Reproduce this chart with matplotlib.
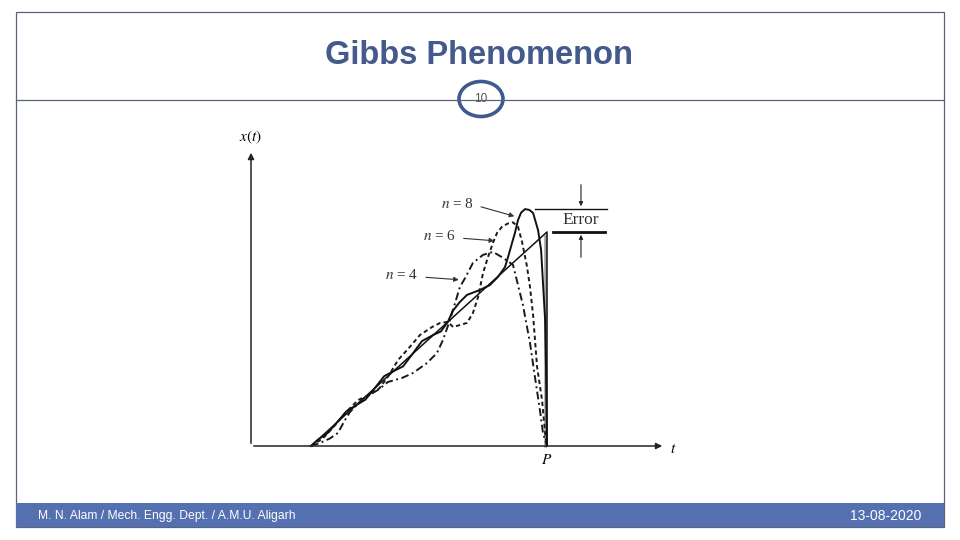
import matplotlib
matplotlib.use("Agg")
import matplotlib.pyplot as plt
from matplotlib.patches import Rectangle, Ellipse

plt.rcParams["mathtext.fontset"] = "stix"

# slide text
title = "Gibbs Phenomenon"
page_no = "10"
footer_left = "M. N. Alam / Mech. Engg. Dept. / A.M.U. Aligarh"
footer_right = "13-08-2020"

# sawtooth x(t) over one period (t in units of P, x in units of the peak)
saw_t = [0.0, 1.0, 1.0]
saw_x = [0.0, 1.0, 0.0]

# partial sums
n4_t = [0.0, 0.04, 0.08, 0.114, 0.144, 0.165, 0.229, 0.284, 0.326, 0.386, 0.432,
        0.492, 0.534, 0.559, 0.589, 0.631, 0.653, 0.686, 0.729, 0.771, 0.814,
        0.856, 0.898, 0.928, 0.949, 0.97, 0.983, 1.0]
n4_x = [0.0, 0.015, 0.035, 0.061, 0.121, 0.159, 0.229, 0.262, 0.299, 0.318, 0.341,
        0.388, 0.435, 0.495, 0.589, 0.743, 0.785, 0.855, 0.893, 0.907, 0.879,
        0.846, 0.659, 0.481, 0.322, 0.168, 0.061, 0.0]

n6_t = [0.0, 0.05, 0.10, 0.15, 0.20, 0.25, 0.29, 0.33, 0.369, 0.419, 0.462, 0.513,
        0.547, 0.58, 0.602, 0.661, 0.686, 0.708, 0.729, 0.75, 0.771, 0.788, 0.81,
        0.835, 0.856, 0.877, 0.894, 0.915, 0.928, 0.941, 0.958, 0.979, 0.992, 1.0]
n6_x = [0.0, 0.035, 0.095, 0.16, 0.215, 0.24, 0.27, 0.33, 0.402, 0.463, 0.519, 0.556,
        0.575, 0.58, 0.556, 0.575, 0.621, 0.696, 0.808, 0.883, 0.949, 0.995, 1.025,
        1.04, 1.045, 1.025, 0.955, 0.84, 0.743, 0.612, 0.369, 0.215, 0.061, 0.0]

n8_t = [0.0, 0.03, 0.07, 0.11, 0.15, 0.19, 0.23, 0.27, 0.31, 0.35, 0.39, 0.43,
        0.47, 0.52, 0.55, 0.58, 0.60, 0.63, 0.661, 0.716, 0.758, 0.792, 0.822,
        0.835, 0.852, 0.864, 0.877, 0.89, 0.907, 0.925, 0.941, 0.962, 0.975,
        0.983, 0.992, 0.996, 1.0]
n8_x = [0.0, 0.03, 0.06, 0.11, 0.162, 0.19, 0.216, 0.27, 0.326, 0.35, 0.372, 0.43,
        0.49, 0.52, 0.535, 0.58, 0.63, 0.672, 0.706, 0.729, 0.752, 0.79, 0.836,
        0.883, 0.949, 0.995, 1.055, 1.09, 1.107, 1.103, 1.089, 1.009, 0.916,
        0.762, 0.589, 0.355, 0.0]

# label positions / arrow tips (t, x)
labels = ["n = 8", "n = 6", "n = 4"]
label_pos = [(0.619, 1.131), (0.545, 0.981), (0.385, 0.799)]
arrow_tip = [(0.873, 1.07), (0.788, 0.958), (0.638, 0.776)]

blue = "#44598c"
ink = "#1a1a1a"
fig = plt.figure(figsize=(9.6, 5.4), dpi=100)

# slide frame
bg = fig.add_axes([0, 0, 1, 1])
bg.set_xlim(0, 960)
bg.set_ylim(540, 0)
bg.axis("off")
bg.add_patch(Rectangle((16, 12), 928, 515, fill=False, ec="#5a6478", lw=0.9))
bg.add_patch(Rectangle((16, 503), 928, 24, fc="#5470b0", ec="none"))
bg.plot([16, 944], [100, 100], color="#5a6478", lw=0.9)
bg.add_patch(Ellipse((481, 99), 44, 35, fc="white", ec="#3f5a90", lw=2.6))
bg.text(481, 99, page_no, ha="center", va="center", fontsize=8.5, color="#555555",
        family="Liberation Sans")
bg.text(479, 56, title, ha="center", va="center", fontsize=23.5, color=blue,
        family="Liberation Sans", weight="bold")
bg.text(38, 516, footer_left, ha="left", va="center", fontsize=8.7, color="white",
        family="Liberation Sans")
bg.text(921, 516, footer_right, ha="right", va="center", fontsize=10, color="white",
        family="Liberation Sans")

# chart
ax = fig.add_axes([251 / 960, 1 - 446 / 540, 414 / 960, 296 / 540])
ax.set_xlim(-0.2542, 1.5)
ax.set_ylim(0, 1.383)
ax.axis("off")
ax.patch.set_alpha(0)

ax.annotate("", xy=(1.5, 0), xytext=(-0.2542, 0),
            arrowprops=dict(arrowstyle="-|>", lw=1.1, color="#222222", mutation_scale=9))
ax.annotate("", xy=(-0.2542, 1.383), xytext=(-0.2542, 0),
            arrowprops=dict(arrowstyle="-|>", lw=1.1, color="#222222", mutation_scale=9))

ax.plot([0.993, 0.993], [0.0, 0.98], color="#a0a0a0", lw=1.8, clip_on=False)
ax.plot(saw_t, saw_x, color="#111111", lw=1.1, clip_on=False)
ax.plot(n4_t, n4_x, color=ink, lw=1.4, ls=(0, (4, 1.8, 1, 1.8)), clip_on=False)
ax.plot(n6_t, n6_x, color=ink, lw=1.4, ls=(0, (2.2, 1.6)), clip_on=False)
ax.plot(n8_t, n8_x, color="#111111", lw=1.4, clip_on=False)

for lab, (lx, ly), (tx, ty) in zip(labels, label_pos, arrow_tip):
    ax.text(lx, ly, lab.replace("n", "$n$"), ha="center", va="center", fontsize=11,
            family="Liberation Serif", color="#333333")
    ax.annotate("", xy=(tx, ty), xytext=(lx + 0.09, ly - 0.01),
                arrowprops=dict(arrowstyle="-|>", lw=0.8, color="#333333", mutation_scale=7))

# error bracket
ax.plot([0.949, 1.254], [1.107, 1.107], color="#111111", lw=1.0, clip_on=False)
ax.plot([1.025, 1.246], [1.0, 1.0], color="#111111", lw=2.0, clip_on=False)
ax.annotate("", xy=(1.144, 1.107), xytext=(1.144, 1.234),
            arrowprops=dict(arrowstyle="-|>", lw=0.8, color="#222222", mutation_scale=6))
ax.annotate("", xy=(1.144, 1.0), xytext=(1.144, 0.869),
            arrowprops=dict(arrowstyle="-|>", lw=0.8, color="#222222", mutation_scale=6))
ax.text(1.144, 1.055, "Error", ha="center", va="center", fontsize=12.5,
        family="Liberation Serif", color="#333333")

ax.text(-0.258, 1.444, "$x(t)$", ha="center", va="center", fontsize=11, clip_on=False)
ax.text(1.534, -0.014, "$t$", ha="center", va="center", fontsize=11, clip_on=False)
ax.text(1.0, -0.061, "$P$", ha="center", va="center", fontsize=11, clip_on=False)

fig.savefig("out.png", dpi=100)
